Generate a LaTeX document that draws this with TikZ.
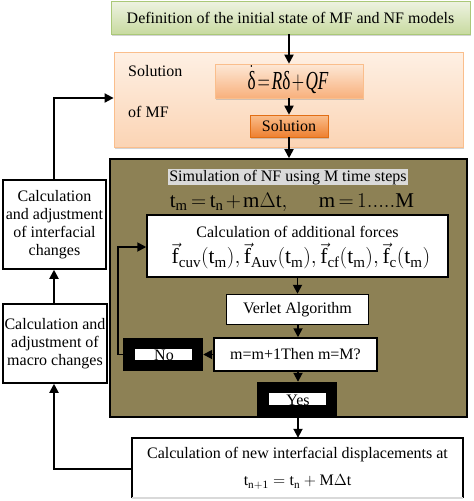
\RequirePackage{fix-cm}
\documentclass[tikz,border=0pt]{standalone}
\usepackage{amsmath}
\usepackage{graphicx}
\usepackage{fontspec}
\setmainfont{Liberation Serif}
\usetikzlibrary{arrows.meta,shadows}
\definecolor{olivebg}{RGB}{141,129,85}
\definecolor{grntop}{RGB}{238,243,226}
\definecolor{grnbot}{RGB}{200,218,160}
\definecolor{grnline}{RGB}{170,200,120}
\definecolor{orgtop}{RGB}{254,240,228}
\definecolor{orgbot}{RGB}{251,212,180}
\definecolor{orgline}{RGB}{250,190,140}
\definecolor{frmtop}{RGB}{253,232,214}
\definecolor{frmbot}{RGB}{248,176,124}
\definecolor{soltop}{RGB}{250,190,140}
\definecolor{solbot}{RGB}{238,128,48}
\definecolor{solline}{RGB}{226,110,20}
\definecolor{hlgray}{RGB}{218,218,218}
\begin{document}
\begin{tikzpicture}[x=1pt,y=-1pt,
  font=\fontsize{16}{18}\selectfont,
  wbox/.style={draw=black, line width=1.5pt, fill=white, inner sep=0pt, align=center},
  gbox/.style={draw=grnline, line width=0.8pt, top color=grntop, bottom color=grnbot, inner sep=0pt,
    drop shadow={shadow xshift=1pt, shadow yshift=-1.5pt, opacity=0.35}},
  obox/.style={draw=orgline, line width=0.8pt, top color=orgtop, bottom color=orgbot, inner sep=0pt,
    drop shadow={shadow xshift=1pt, shadow yshift=-1.5pt, opacity=0.35}},
  fbox/.style={draw=orgline, line width=0.6pt, top color=frmtop, bottom color=frmbot, inner sep=0pt,
    drop shadow={shadow xshift=1pt, shadow yshift=-1.5pt, opacity=0.35}},
  sbox/.style={draw=solline, line width=0.6pt, top color=soltop, bottom color=solbot, inner sep=0pt,
    drop shadow={shadow xshift=1pt, shadow yshift=-1.5pt, opacity=0.35}},
  blk/.style={fill=black, draw=none, inner sep=0pt},
  wstrip/.style={fill=white, draw=none, inner sep=0pt},
  conn/.style={line width=1.8pt, -{Triangle[length=9pt,width=9pt]}},
]
\useasboundingbox (0,0) rectangle (474,501);

% top box
\node[gbox, minimum width=359pt, minimum height=33pt] (init) at (290.5,17.5)
  {Definition of the initial state of MF and NF models};

% orange big box
\node[obox, minimum width=349pt, minimum height=95pt] (mf) at (288.5,99.5) {};
\node[anchor=west, inner sep=0pt] (soltxt) at (128,71) {Solution};
\node[anchor=west, inner sep=0pt] (ofmf) at (128,112) {of MF};
\node[fbox, minimum width=148pt, minimum height=34pt] (eq) at (289,81) {};
\node[inner sep=0pt] (eqtxt) at (288,80)
  {\fontsize{26}{28}\selectfont\thickmuskip=2mu\medmuskip=1.5mu\scalebox{0.66}[1]{$\dot{\text{δ}} = \mathit{R}\text{δ} + \mathit{QF}$}};
\node[sbox, minimum width=78pt, minimum height=22pt] (solbtn) at (289,126) {Solution};

% olive box
\node[fill=olivebg, draw=black, line width=1.6pt, minimum width=357pt, minimum height=258pt, inner sep=0pt] (nf) at (288.5,288) {};
\node[fill=hlgray, inner xsep=1pt, inner ysep=0pt, text height=12pt, text depth=4pt] (simtitle) at (288,177)
  {Simulation of NF using M time steps};
\node[inner sep=0pt] (tmeq) at (292,202)
  {\fontsize{21}{24}\selectfont\thickmuskip=3mu\medmuskip=2mu $\mathrm{t}_{\mathrm{m}} = \mathrm{t}_{\mathrm{n}} + \mathrm{m}\Delta\mathrm{t},\quad\;\; \mathrm{m} = 1.....\mathrm{M}$};

\node[wbox, minimum width=301pt, minimum height=62pt] (calc) at (297.5,246) {};
\node[inner sep=0pt] (calctxt) at (297.5,232) {Calculation of additional forces};
\node[inner sep=0pt] (forces) at (301,256)
  {\fontsize{21.5}{24}\selectfont $\vec{\mathrm{f}}_{\mathrm{cuv}}(\mathrm{t}_{\mathrm{m}}),\vec{\mathrm{f}}_{\mathrm{Auv}}(\mathrm{t}_{\mathrm{m}}),\vec{\mathrm{f}}_{\mathrm{cf}}(\mathrm{t}_{\mathrm{m}}),\vec{\mathrm{f}}_{\mathrm{c}}(\mathrm{t}_{\mathrm{m}})$};

\node[wbox, minimum width=142pt, minimum height=30pt] (verlet) at (297.5,309.5) {Verlet Algorithm};
\node[wbox, minimum width=163pt, minimum height=33pt] (dec) at (295.5,354.5) {m=m+1Then m=M?};

\node[blk, minimum width=80pt, minimum height=33pt] (nobox) at (163,354.5) {};
\node[wstrip, minimum width=57pt, minimum height=11pt] (nostrip) at (163.5,354.5) {};
\node[inner sep=0pt] (notxt) at (164,355) {No};

\node[blk, minimum width=80pt, minimum height=35pt] (yesbox) at (297,399.5) {};
\node[wstrip, minimum width=57pt, minimum height=12pt] (yesstrip) at (297.5,399) {};
\node[inner sep=0pt] (yestxt) at (298,400) {Yes};

% bottom box
\node[fill=white, draw=none, minimum width=331pt, minimum height=60pt, inner sep=0pt] (final) at (297.5,468) {};
\draw[line width=1.5pt] (final.south west) -- (final.north west) -- (final.north east) -- (final.south east);
\draw[line width=1.5pt, black!15] (final.south west) -- (final.south east);
\node[inner sep=0pt] (finaltxt) at (297.5,455) {Calculation of new interfacial displacements at};
\node[inner sep=0pt] (finaleq) at (297.5,482)
  {$\mathrm{t}_{\mathrm{n+1}} = \mathrm{t}_{\mathrm{n}} + \mathrm{M}\Delta\mathrm{t}$};

% left boxes
\node[wbox, minimum width=103pt, minimum height=89pt] (interf) at (54.5,224.5)
  {Calculation\\and adjustment\\of interfacial\\changes};
\node[wbox, minimum width=104pt, minimum height=79pt] (macro) at (55,343.5)
  {Calculation and\\adjustment of\\macro changes};

% connectors
\draw[conn] (init.south -| eq.north) -- (eq.north);
\draw[conn] (eq.south) -- (solbtn.north);
\draw[conn] (solbtn.south) -- (solbtn.south |- nf.north);
\draw[conn] (calc.south -| verlet.north) -- (verlet.north);
\draw[conn] (verlet.south -| 298,0) -- (dec.north -| 298,0);
\draw[conn] (dec.west) -- (nobox.east);
\coordinate (loopA) at (118,354.5);
\coordinate (loopB) at (118,247);
\draw[conn] (nobox.west) -- (loopA) -- (loopB) -- (calc.west |- loopB);
\draw[conn] (dec.south -| 298,0) -- (yesbox.north -| 298,0);
\draw[conn] (yesbox.south -| 298,0) -- (final.north -| 298,0);
\coordinate (botL) at (54,469);
\draw[conn] (final.west |- botL) -- (botL) -- (macro.south -| botL);
\draw[conn] (macro.north -| 54,0) -- (interf.south -| 54,0);
\coordinate (topL) at (54,98);
\draw[conn] (interf.north -| topL) -- (topL) -- (mf.west |- topL);
\end{tikzpicture}
\end{document}
